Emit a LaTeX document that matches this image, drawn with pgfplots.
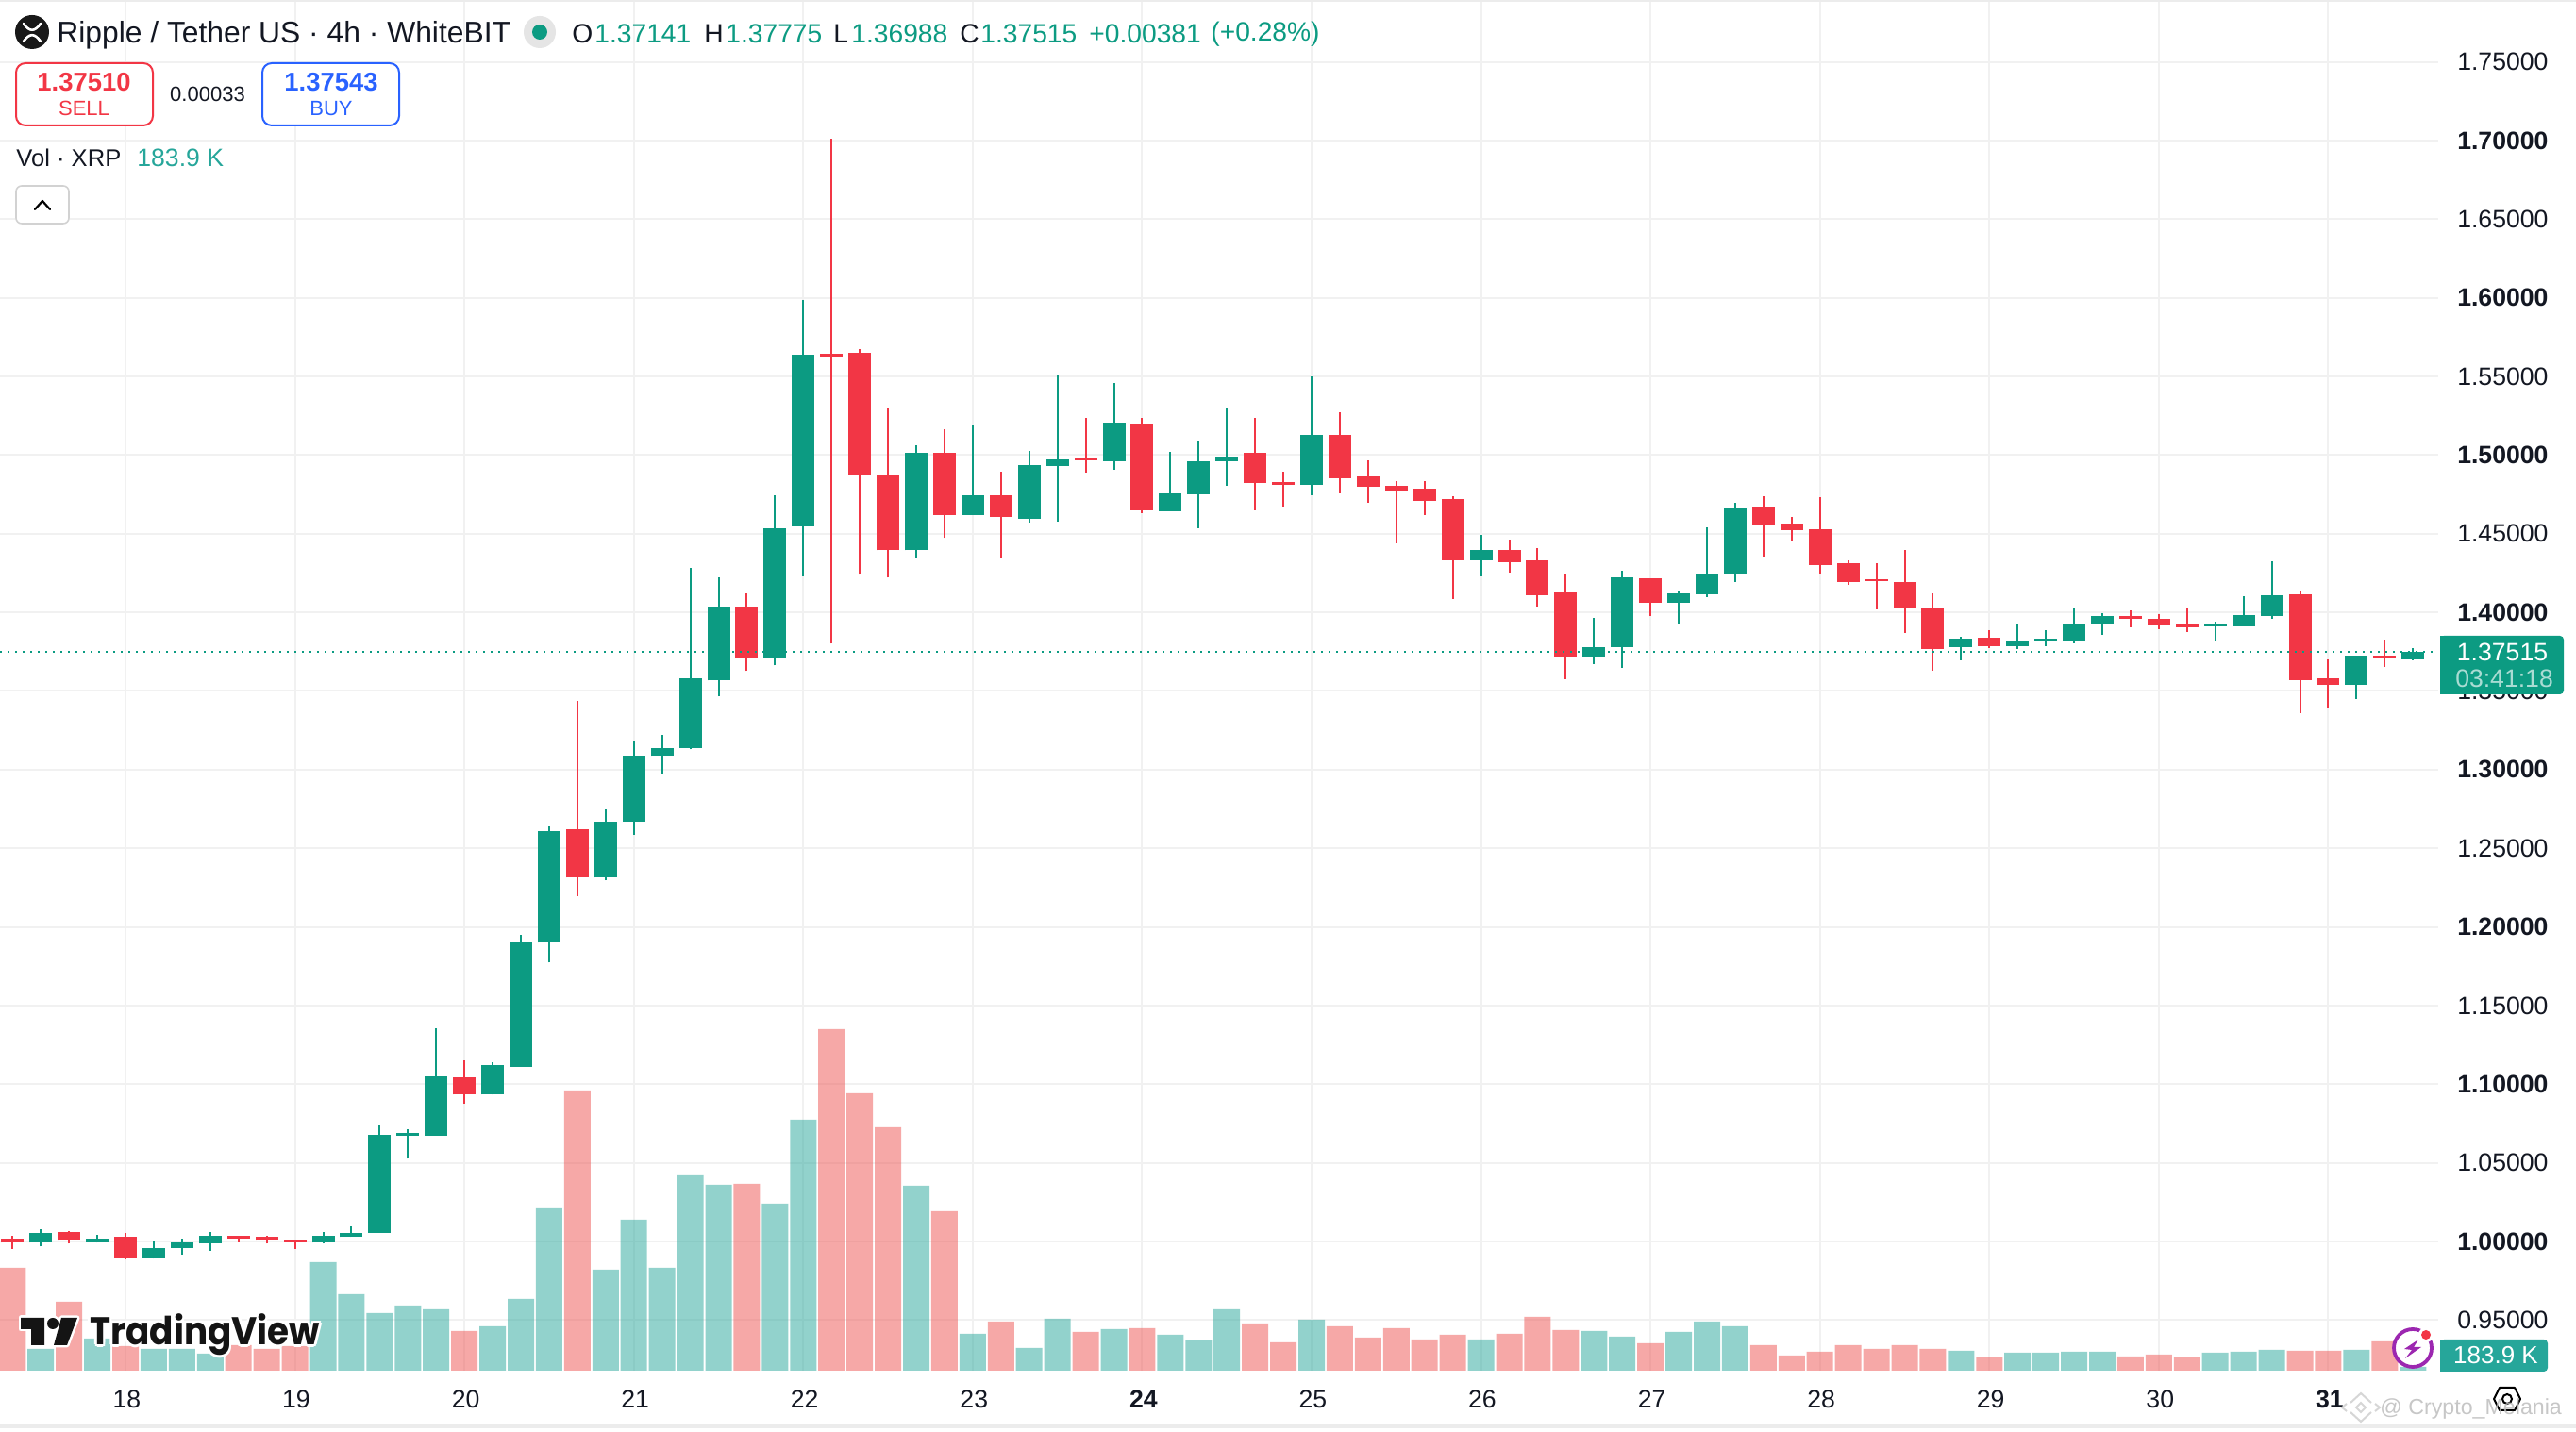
\documentclass[border=0pt]{standalone}
\usepackage{fontspec}
\usepackage{pgfplots}
\usepackage{pgfplotstable}
\pgfplotsset{compat=1.18}
\setmainfont{Liberation Sans}
\newfontfamily\tvfont{Poppins}

\definecolor{cgreen}{HTML}{0C9B82}
\definecolor{cred}{HTML}{F23645}
\definecolor{vgreen}{HTML}{26A69A}
\definecolor{vred}{HTML}{EF5350}
\definecolor{gridc}{HTML}{F1F1F1}
\definecolor{txt}{HTML}{131722}
\definecolor{cblue}{HTML}{2962FF}
\definecolor{cpurple}{HTML}{9C27B0}
\colorlet{cup}{cgreen}
\colorlet{cdn}{cred}

% volume, in K
\pgfplotstableread{
k vol
-3 1058
-1 1564
1 1058
2 1058
3 828
7 5290
8 3726
9 2806
10 3174
11 2990
13 2162
14 3496
15 7912
17 4922
18 7360
19 5014
20 9522
21 9062
23 8142
24 12236
28 9016
30 1794
32 1104
33 2530
35 2024
37 1748
38 1472
39 2990
42 2484
48 1518
52 1932
53 1656
55 1886
56 2392
57 2162
65 966
67 874
68 874
69 920
70 920
74 874
75 920
76 1012
79 1012
81 184
}\volup
\pgfplotstableread{
k vol
-4 5014
-2 3358
0 1196
4 1242
5 1058
6 1196
12 1932
16 13662
22 9108
25 16652
26 13524
27 11868
29 7774
31 2392
34 1886
36 2070
40 2300
41 1380
43 2162
44 1610
45 2070
46 1518
47 1748
49 1794
50 2622
51 1978
54 1334
58 1242
59 736
60 920
61 1242
62 1058
63 1242
64 1058
66 644
71 690
72 782
73 644
77 966
78 966
80 1426
}\voldown

% candle: colour, index, high, body top, body bottom, low
\newcommand{\candle}[6]{%
  \addplot[#1, line width=1pt] coordinates {(#2,#6) (#2,#3)};
  \addplot[#1, line width=12pt] coordinates {(#2,#5) (#2,#4)};
}

\pgfplotsset{
  chartbase/.style={scale only axis, width=1292pt, height=725.5pt, at={(0pt,32.5pt)}, anchor=south west, xmin=-4.444, xmax=81.89},
}

\begin{document}
\begin{tikzpicture}
\path[use as bounding box, fill=white] (0pt,0pt) rectangle (1365pt,759pt);

% grid and tick labels
\begin{axis}[chartbase, ymin=0.9178, ymax=1.7882,
  axis line style={draw=none}, major tick length=0pt,
  grid=major, grid style={gridc, line width=1pt},
  xtick={0,6,...,78},
  xticklabels={18,19,20,21,22,23,\textbf{24},25,26,27,28,29,30,\textbf{31}},
  xticklabel pos=lower,
  ytick={0.95,1.00,1.05,1.10,1.15,1.20,1.25,1.30,1.35,1.40,1.45,1.50,1.55,1.60,1.65,1.70,1.75},
  yticklabels={0.95000,\textbf{1.00000},1.05000,\textbf{1.10000},1.15000,\textbf{1.20000},1.25000,\textbf{1.30000},1.35000,\textbf{1.40000},1.45000,\textbf{1.50000},1.55000,\textbf{1.60000},1.65000,\textbf{1.70000},1.75000},
  yticklabel pos=right,
  xticklabel style={anchor=center, xshift=0.7pt, yshift=-15pt, inner sep=0pt, text=txt, font=\fontsize{13.3}{13.3}\selectfont},
  yticklabel style={anchor=west, xshift=10pt, inner sep=0pt, text=txt, font=\fontsize{13.3}{13.3}\selectfont},
]
\end{axis}

% volume
\begin{axis}[chartbase, hide axis, ymin=0, ymax=66746, ybar, bar width=14pt, bar shift=0pt]
\addplot[draw=none, fill=vgreen, fill opacity=0.5] table[x=k, y=vol] {\volup};
\addplot[draw=none, fill=vred, fill opacity=0.5] table[x=k, y=vol] {\voldown};
\end{axis}

% candles
\begin{axis}[chartbase, hide axis, ymin=0.9178, ymax=1.7882]
\candle{cdn}{-4}{1.0034}{1.0020}{0.9992}{0.9953}
\candle{cup}{-3}{1.0076}{1.0055}{0.9992}{0.9967}
\candle{cdn}{-2}{1.0066}{1.0062}{1.0009}{0.9985}
\candle{cup}{-1}{1.0044}{1.0020}{0.9995}{0.9992}
\candle{cdn}{0}{1.0055}{1.0027}{0.9893}{0.9886}
\candle{cup}{1}{1.0002}{0.9960}{0.9893}{0.9890}
\candle{cup}{2}{1.0020}{0.9992}{0.9960}{0.9918}
\candle{cup}{3}{1.0062}{1.0037}{0.9985}{0.9942}
\candle{cdn}{4}{1.0037}{1.0037}{1.0020}{0.9995}
\candle{cdn}{5}{1.0037}{1.0027}{1.0009}{0.9985}
\candle{cdn}{6}{1.0013}{1.0013}{0.9995}{0.9953}
\candle{cup}{7}{1.0062}{1.0034}{0.9992}{0.9985}
\candle{cup}{8}{1.0094}{1.0055}{1.0027}{1.0027}
\candle{cup}{9}{1.0740}{1.0680}{1.0055}{1.0055}
\candle{cup}{10}{1.0712}{1.0687}{1.0673}{1.0526}
\candle{cup}{11}{1.1358}{1.1052}{1.0673}{1.0673}
\candle{cdn}{12}{1.1154}{1.1045}{1.0933}{1.0877}
\candle{cup}{13}{1.1137}{1.1119}{1.0933}{1.0933}
\candle{cup}{14}{1.1952}{1.1899}{1.1112}{1.1112}
\candle{cup}{15}{1.2637}{1.2612}{1.1899}{1.1773}
\candle{cdn}{16}{1.3434}{1.2619}{1.2313}{1.2198}
\candle{cup}{17}{1.2746}{1.2672}{1.2313}{1.2296}
\candle{cup}{18}{1.3181}{1.3086}{1.2672}{1.2587}
\candle{cup}{19}{1.3220}{1.3139}{1.3086}{1.2974}
\candle{cup}{20}{1.4280}{1.3578}{1.3139}{1.3128}
\candle{cup}{21}{1.4221}{1.4035}{1.3567}{1.3466}
\candle{cdn}{22}{1.4122}{1.4035}{1.3708}{1.3627}
\candle{cup}{23}{1.4747}{1.4536}{1.3711}{1.3663}
\candle{cup}{24}{1.5987}{1.5638}{1.4547}{1.4231}
\candle{cdn}{25}{1.7011}{1.5645}{1.5627}{1.3800}
\candle{cdn}{26}{1.5675}{1.5650}{1.4873}{1.4238}
\candle{cdn}{27}{1.5297}{1.4877}{1.4394}{1.4220}
\candle{cup}{28}{1.5063}{1.5015}{1.4394}{1.4346}
\candle{cdn}{29}{1.5166}{1.5015}{1.4621}{1.4472}
\candle{cup}{30}{1.5189}{1.4747}{1.4621}{1.4621}
\candle{cdn}{31}{1.4896}{1.4747}{1.4609}{1.4346}
\candle{cup}{32}{1.5029}{1.4937}{1.4595}{1.4572}
\candle{cup}{33}{1.5512}{1.4974}{1.4932}{1.4579}
\candle{cdn}{34}{1.5237}{1.4980}{1.4967}{1.4889}
\candle{cup}{35}{1.5459}{1.5207}{1.4962}{1.4907}
\candle{cdn}{36}{1.5237}{1.5200}{1.4650}{1.4632}
\candle{cup}{37}{1.5022}{1.4758}{1.4644}{1.4644}
\candle{cup}{38}{1.5088}{1.4962}{1.4751}{1.4536}
\candle{cup}{39}{1.5297}{1.4992}{1.4962}{1.4806}
\candle{cdn}{40}{1.5237}{1.5015}{1.4825}{1.4650}
\candle{cdn}{41}{1.4896}{1.4829}{1.4813}{1.4673}
\candle{cup}{42}{1.5501}{1.5129}{1.4811}{1.4747}
\candle{cdn}{43}{1.5274}{1.5129}{1.4854}{1.4758}
\candle{cdn}{44}{1.4967}{1.4866}{1.4799}{1.4699}
\candle{cdn}{45}{1.4836}{1.4806}{1.4776}{1.4440}
\candle{cdn}{46}{1.4832}{1.4784}{1.4711}{1.4621}
\candle{cdn}{47}{1.4736}{1.4718}{1.4333}{1.4087}
\candle{cup}{48}{1.4495}{1.4399}{1.4333}{1.4231}
\candle{cdn}{49}{1.4465}{1.4399}{1.4321}{1.4255}
\candle{cdn}{50}{1.4411}{1.4333}{1.4111}{1.4039}
\candle{cdn}{51}{1.4249}{1.4129}{1.3720}{1.3576}
\candle{cup}{52}{1.3966}{1.3780}{1.3720}{1.3672}
\candle{cup}{53}{1.4267}{1.4225}{1.3780}{1.3648}
\candle{cdn}{54}{1.4219}{1.4219}{1.4063}{1.3978}
\candle{cup}{55}{1.4135}{1.4123}{1.4063}{1.3924}
\candle{cup}{56}{1.4543}{1.4249}{1.4117}{1.4099}
\candle{cup}{57}{1.4699}{1.4663}{1.4243}{1.4195}
\candle{cdn}{58}{1.4736}{1.4675}{1.4555}{1.4357}
\candle{cdn}{59}{1.4609}{1.4567}{1.4525}{1.4453}
\candle{cdn}{60}{1.4730}{1.4531}{1.4303}{1.4249}
\candle{cdn}{61}{1.4333}{1.4315}{1.4195}{1.4177}
\candle{cdn}{62}{1.4315}{1.4213}{1.4201}{1.4021}
\candle{cdn}{63}{1.4399}{1.4195}{1.4027}{1.3870}
\candle{cdn}{64}{1.4123}{1.4027}{1.3768}{1.3630}
\candle{cup}{65}{1.3846}{1.3834}{1.3780}{1.3696}
\candle{cdn}{66}{1.3888}{1.3840}{1.3786}{1.3774}
\candle{cup}{67}{1.3924}{1.3822}{1.3786}{1.3768}
\candle{cup}{68}{1.3888}{1.3834}{1.3822}{1.3786}
\candle{cup}{69}{1.4025}{1.3929}{1.3822}{1.3804}
\candle{cup}{70}{1.3995}{1.3977}{1.3923}{1.3857}
\candle{cdn}{71}{1.4013}{1.3977}{1.3959}{1.3905}
\candle{cdn}{72}{1.3989}{1.3959}{1.3917}{1.3893}
\candle{cdn}{73}{1.4031}{1.3929}{1.3905}{1.3875}
\candle{cup}{74}{1.3941}{1.3923}{1.3911}{1.3822}
\candle{cup}{75}{1.4103}{1.3983}{1.3911}{1.3911}
\candle{cup}{76}{1.4325}{1.4109}{1.3977}{1.3959}
\candle{cdn}{77}{1.4139}{1.4115}{1.3570}{1.3360}
\candle{cdn}{78}{1.3702}{1.3582}{1.3540}{1.3396}
\candle{cup}{79}{1.3726}{1.3726}{1.3540}{1.3450}
\candle{cdn}{80}{1.3828}{1.3726}{1.3714}{1.3654}
\candle{cup}{81}{1.3774}{1.3750}{1.3702}{1.3696}
% last price
\addplot[cgreen, line width=1pt, dash pattern=on 1.2pt off 2.8pt] coordinates {(-4.444,1.37515) (81.89,1.37515)};
\end{axis}

% everything around the chart, in reference pixels
\begin{scope}[x=0.5pt, y=-0.5pt, yshift=759pt, every node/.style={inner sep=0pt, text=txt}]
\fill[gray!15] (0,0) rectangle (2730,2);
\fill[gray!15] (0,1510) rectangle (2730,1514);

% header
\fill[black!90] (34,34) circle (18);
\draw[white, line width=1.3pt, line cap=round] (25,25) .. controls (31,34) and (37,34) .. (43,25);
\draw[white, line width=1.3pt, line cap=round] (25,44) .. controls (31,35) and (37,35) .. (43,44);
\node[anchor=west, font=\fontsize{15.9}{16}\selectfont] at (60,37) {Ripple / Tether US · 4h · WhiteBIT};
\fill[gray!20] (572,34) circle (17);
\fill[cgreen] (572,34) circle (8);
\begin{scope}[every node/.append style={anchor=west, font=\fontsize{14.1}{15}\selectfont}]
\node at (606,36) {O};
\node[text=cgreen] at (630,36) {1.37141};
\node at (746,36) {H};
\node[text=cgreen] at (769,36) {1.37775};
\node at (883,36) {L};
\node[text=cgreen] at (902,36) {1.36988};
\node at (1017,36) {C};
\node[text=cgreen] at (1039,36) {1.37515};
\node[text=cgreen] at (1154,36) {+0.00381};
\node[text=cgreen] at (1283,36) {(+0.28\%)};
\end{scope}

% sell / buy
\draw[cred, line width=1pt, rounded corners=5pt, fill=white] (17,67) rectangle (162,133);
\draw[cblue, line width=1pt, rounded corners=5pt, fill=white] (278,67) rectangle (423,133);
\node[text=cred, font=\fontsize{13.7}{14}\selectfont\bfseries] at (89,87) {1.37510};
\node[text=cred, font=\fontsize{11}{12}\selectfont] at (89,115) {SELL};
\node[font=\fontsize{11}{12}\selectfont] at (220,100) {0.00033};
\node[text=cblue, font=\fontsize{13.7}{14}\selectfont\bfseries] at (351,87) {1.37543};
\node[text=cblue, font=\fontsize{11}{12}\selectfont] at (351,115) {BUY};

\node[anchor=west, font=\fontsize{12.8}{14}\selectfont] at (17,167) {Vol · XRP};
\node[anchor=west, text=vgreen, font=\fontsize{13.3}{14}\selectfont] at (145,167) {183.9 K};
\draw[gray!35, line width=0.8pt, rounded corners=3pt, fill=white] (17,197) rectangle (73,237);
\draw[black, line width=1.1pt, line cap=round, line join=round] (37,222) -- (45,213) -- (53,222);

% price tags
\fill[cgreen, rounded corners=2pt] (2586,674) rectangle (2717,736);
\fill[cgreen] (2586,674) rectangle (2600,736);
\node[text=white, font=\fontsize{13.3}{14}\selectfont] at (2652,691) {1.37515};
\node[text=white, text opacity=0.65, font=\fontsize{13.3}{14}\selectfont] at (2654,719) {03:41:18};
\fill[vgreen, rounded corners=2pt] (2586,1420) rectangle (2700,1454);
\fill[vgreen] (2586,1420) rectangle (2600,1454);
\node[text=white, font=\fontsize{13}{14}\selectfont] at (2645,1437) {183.9 K};

% TradingView mark
\foreach \dx/\dy in {-2.5/0,2.5/0,0/-2.5,0/2.5,-2/-2,2/-2,-2/2,2/2}{
  \node[anchor=base west, text=white, font=\tvfont\bfseries\fontsize{20.5}{21}\selectfont] at (95+\dx,1426+\dy) {\scalebox{0.91}[1]{TradingView}};
}
\node[anchor=base west, text=black!92, font=\tvfont\bfseries\fontsize{20.5}{21}\selectfont] at (95,1426) {\scalebox{0.91}[1]{TradingView}};
\draw[white, line width=2.5pt, line join=round, fill=white] (22,1397) -- (47,1397) -- (47,1426) -- (33,1426) -- (33,1409) -- (22,1409) -- cycle;
\draw[white, line width=2.5pt, fill=white] (56,1403) circle (6);
\draw[white, line width=2.5pt, line join=round, fill=white] (65,1397) -- (82,1397) -- (71,1426) -- (57,1426) -- cycle;
\fill[black!92] (22,1397) -- (47,1397) -- (47,1426) -- (33,1426) -- (33,1409) -- (22,1409) -- cycle;
\fill[black!92] (56,1403) circle (6);
\fill[black!92] (65,1397) -- (82,1397) -- (71,1426) -- (57,1426) -- cycle;

% lightning badge
\draw[cpurple, line width=1.9pt, fill=white] (2557,1429) circle (20);
\fill[white] (2571,1415) circle (8);
\fill[cred] (2571,1415) circle (5);
\fill[cpurple] (2563,1420) -- (2548,1430) -- (2556,1431) -- (2549,1440) -- (2566,1428) -- (2558,1428) -- cycle;

% settings icon
\draw[black, line width=1pt, line join=round] (2649,1471) -- (2665,1471) -- (2671,1483) -- (2665,1495) -- (2649,1495) -- (2643,1483) -- cycle;
\draw[black, line width=1pt] (2657,1483) circle (5);

% watermark
\begin{scope}[gray!45, line width=1pt, opacity=0.7]
\draw (2502,1487) -- (2507,1492) -- (2502,1497) -- (2497,1492) -- cycle;
\draw (2491,1487) -- (2502,1477) -- (2513,1487);
\draw (2491,1497) -- (2502,1507) -- (2513,1497);
\draw (2487,1488) -- (2482,1492) -- (2487,1496);
\draw (2517,1488) -- (2522,1492) -- (2517,1496);
\end{scope}
\node[anchor=west, text=gray!55, text opacity=0.8, font=\fontsize{11.6}{13}\selectfont] at (2522,1494) {@ Crypto\_Melania};
\end{scope}
\end{tikzpicture}
\end{document}
